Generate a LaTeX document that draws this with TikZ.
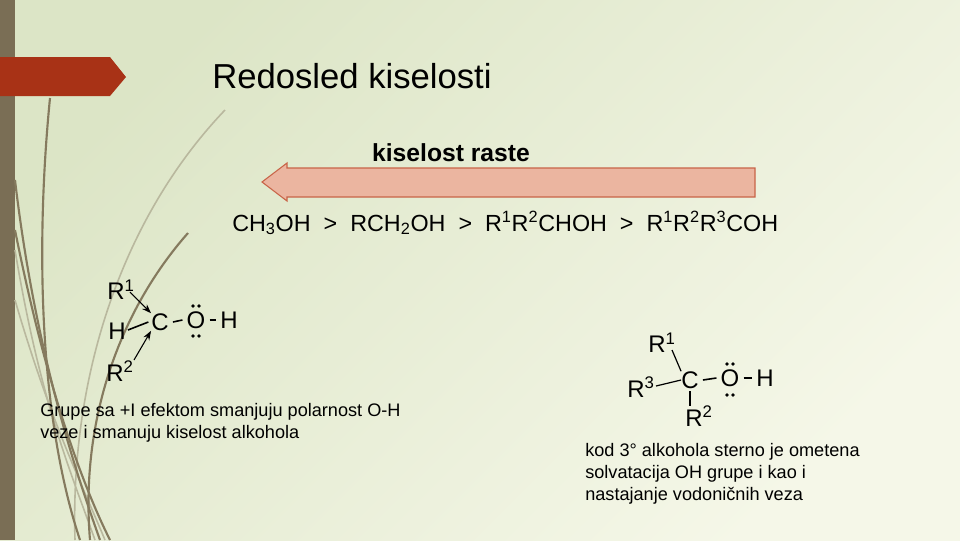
\documentclass[tikz,border=0pt]{standalone}
\usepackage{fontspec}
\setmainfont{Liberation Sans}
\usetikzlibrary{arrows.meta,shapes.arrows}
\definecolor{bgA}{HTML}{F5F7E8}
\definecolor{bgB}{HTML}{DCE5C6}
\definecolor{barc}{HTML}{7A6E55}
\definecolor{tabc}{HTML}{A83216}
\definecolor{arrf}{HTML}{EBB5A0}
\definecolor{arrd}{HTML}{C86448}
\definecolor{olive}{HTML}{857A5E}
\definecolor{olivel}{HTML}{B9B89E}
\begin{document}
\begin{tikzpicture}[x=0.75pt,y=-0.75pt,
 lab/.style={inner sep=0pt,font=\fontsize{18}{20}\selectfont},
 bond/.style={line width=1.2pt},
 push/.style={-{Stealth[length=7pt,width=5pt]},line width=0.8pt},
 txt/.style={inner sep=0pt,anchor=west,font=\fontsize{13.6}{16.5}\selectfont},
 curve/.style={olive,line width=1.6pt},
 curvel/.style={olivel,line width=1.2pt}]
\useasboundingbox (0,0) rectangle (960,540);
\shade[left color=bgB,right color=bgA,shading angle=45] (0,0) rectangle (960,540);
\fill[barc] (0,0) rectangle (15,540);
% decorative curves
\draw[curvel] (225,110) .. controls (120,220) and (70,380) .. (75,540);
\draw[curvel] (15,250) .. controls (40,400) and (70,470) .. (95,540);
\draw[curvel] (15,300) .. controls (50,420) and (80,480) .. (105,540);
\draw[curve] (50,98) .. controls (35,250) and (40,420) .. (80,540);
\draw[curve] (15,180) .. controls (35,350) and (75,470) .. (100,540);
\draw[curve] (15,230) .. controls (45,380) and (80,480) .. (110,540);
\draw[curve] (188,233) .. controls (120,310) and (80,420) .. (90,540);
\fill[tabc] (0,57) -- (110,57) -- (126,77) -- (110,96) -- (0,96) -- cycle;
\node[inner sep=0pt,anchor=west,font=\fontsize{26}{30}\selectfont] (title) at (212,76) {Redosled kiselosti};
% big arrow
\fill[arrf,draw=arrd,line width=0.8pt] (755,168) -- (287,168) -- (287,163) -- (262,182) -- (287,201) -- (287,197) -- (755,197) -- cycle;
\node[inner sep=0pt,font=\bfseries\fontsize{18.5}{20}\selectfont] (raste) at (451,153) {kiselost raste};
\node[inner sep=0pt,anchor=west,font=\fontsize{17.5}{20}\selectfont] (order) at (232,223)
 {CH\textsubscript{3}OH\ \ >\ \ RCH\textsubscript{2}OH\ \ >\ \ R\textsuperscript{1}R\textsuperscript{2}CHOH\ \ >\ \ R\textsuperscript{1}R\textsuperscript{2}R\textsuperscript{3}COH};
% left molecule
\node[lab] (r1) at (121,290) {R\textsuperscript{1}};
\node[lab] (hl) at (117,331) {H};
\node[lab] (c1) at (160,322) {C};
\node[lab] (o1) at (196,320) {O};
\node[lab] (h1) at (229,320) {H};
\node[lab] (r2) at (120,371) {R\textsuperscript{2}};
\draw[push] (130,292) -- (c1.north west);
\draw[push] (134,360) -- (c1.south west);
\draw[bond] (hl.east) ++(2,-1) -- ([xshift=-2pt]c1.west);
\draw[bond] ([xshift=3pt]c1.east) -- ([xshift=-3pt]o1.west);
\draw[bond] ([xshift=3pt]o1.east) -- ([xshift=-3pt]h1.west);
\foreach \dx in {-3,3}{\fill (196+\dx,306) circle (1.8); \fill (196+\dx,336) circle (1.8);}
% right molecule
\node[lab] (r1b) at (662,343) {R\textsuperscript{1}};
\node[lab] (r3b) at (641,387) {R\textsuperscript{3}};
\node[lab] (c2) at (690,380) {C};
\node[lab] (o2) at (730,378) {O};
\node[lab] (h2) at (765,378) {H};
\node[lab] (r2b) at (699,416) {R\textsuperscript{2}};
\coordinate (cb) at ([yshift=-2pt]c2.south);
\draw[line width=0.9pt] (672,350) -- (c2.north west);
\draw[line width=0.9pt] (656,386) -- (c2.west);
\draw[bond] (cb) -- (cb |- r2b.north);
\draw[bond] ([xshift=3pt]c2.east) -- ([xshift=-3pt]o2.west);
\draw[bond] ([xshift=3pt]o2.east) -- ([xshift=-3pt]h2.west);
\foreach \dx in {-3,3}{\fill (730+\dx,364) circle (1.8); \fill (730+\dx,395) circle (1.8);}
% texts
\node[txt,align=left,anchor=north west] (t1) at (40,403) {Grupe sa +I efektom smanjuju polarnost O-H\\veze i smanuju kiselost alkohola};
\node[txt,align=left,anchor=north west] (t2) at (585,443) {kod 3° alkohola sterno je ometena\\solvatacija OH grupe i kao i\\nastajanje vodoničnih veza};
\end{tikzpicture}
\end{document}
